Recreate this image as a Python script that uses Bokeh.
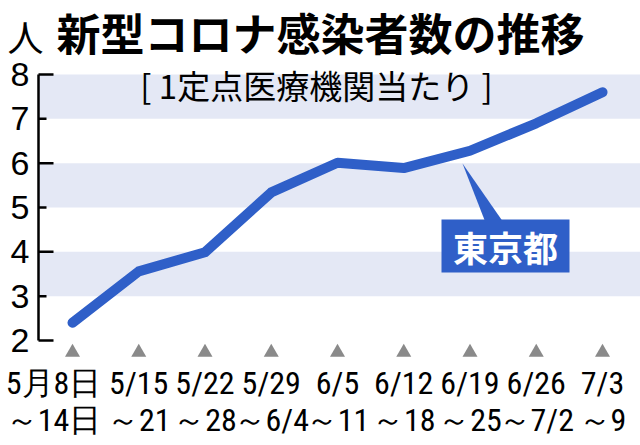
from bokeh.plotting import figure
from bokeh.models import Range1d, ColumnDataSource
from bokeh.core.properties import value
from bokeh.embed import file_html
from bokeh.resources import INLINE

# ---- data ----
week_start = ["5月8日", "5/15", "5/22", "5/29", "6/5", "6/12", "6/19", "6/26", "7/3"]
week_end = ["～14日", "～21", "～28", "～6/4", "～11", "～18", "～25", "～7/2", "～9"]
tokyo = [2.4, 3.56, 3.99, 5.34, 6.01, 5.89, 6.28, 6.9, 7.6]
y_ticks = [2, 3, 4, 5, 6, 7, 8]
y_long_ticks = [2, 4, 6, 8]
title_text = "新型コロナ感染者数の推移"
subtitle_text = "[ 1定点医療機関当たり ]"
unit_text = "人"
series_name = "東京都"

# ---- layout (canvas pixels -> data) ----
W, H = 640, 445
PXX, PXY = 66.25, 266 / 6.0
X0 = -72 / PXX
Y0 = 2 - (H - 340) / PXY

def px2x(cx):
    return X0 + cx / PXX

def px2y(cy):
    return Y0 + (H - cy) / PXY

LINE_BLUE = "#2f5fc8"
BAND = "#e4e8f5"
NARROW = "'Roboto Condensed', 'DejaVu Sans Condensed', 'Liberation Sans', sans-serif"

p = figure(width=W, height=H, output_backend="svg", toolbar_location=None,
           x_axis_location=None, y_axis_location=None,
           x_range=Range1d(X0, X0 + W / PXX),
           y_range=Range1d(Y0, Y0 + H / PXY),
           min_border_left=0, min_border_right=0, min_border_top=0, min_border_bottom=0)
p.outline_line_color = None
p.background_fill_color = "white"
p.border_fill_color = "white"
p.grid.visible = False

x_axis_pos = px2x(38)
x_right = X0 + W / PXX

# horizontal bands between (3,4), (5,6), (7,8)
band_lo = y_ticks[1:-1:2]
p.hbar(y=[b + 0.5 for b in band_lo], height=1, left=x_axis_pos, right=x_right,
       fill_color=BAND, line_color=None)

# y axis: line, ticks, labels
p.segment(x0=[x_axis_pos], y0=[min(y_ticks)], x1=[x_axis_pos], y1=[max(y_ticks)],
          line_color="black", line_width=2.5)
tick_len = [15 if t in y_long_ticks else 8 for t in y_ticks]
p.segment(x0=[x_axis_pos] * len(y_ticks), y0=y_ticks,
          x1=[x_axis_pos + L / PXX for L in tick_len], y1=y_ticks,
          line_color="black", line_width=2.5)
p.text(x=[px2x(29)] * len(y_ticks), y=y_ticks, text=[str(t) for t in y_ticks],
       text_align="right", text_baseline="middle",
       text_font=value("Liberation Sans"), text_font_size="34px", text_color="black")

xs = list(range(len(week_start)))

# line
p.line(xs, tokyo, line_color=LINE_BLUE, line_width=10, line_cap="round", line_join="round")

# triangle markers + labels
offs = [-19 if i == 0 else 0 for i in xs]
lab_src = ColumnDataSource(dict(x=xs, a=week_start, b=week_end, off=offs,
                                tri_y=[px2y(352)] * len(xs),
                                ya=[px2y(382)] * len(xs),
                                yb=[px2y(419)] * len(xs)))
p.scatter("x", "tri_y", source=lab_src, marker="triangle", size=15,
          fill_color="#8a8a8a", line_color=None)
p.text("x", "ya", text="a", x_offset="off", source=lab_src, text_align="center",
       text_baseline="middle", text_font=value(NARROW),
       text_font_size="32px", text_color="black")
p.text("x", "yb", text="b", x_offset="off", source=lab_src, text_align="center",
       text_baseline="middle", text_font=value(NARROW),
       text_font_size="32px", text_color="black")

# title / subtitle / unit
p.text([px2x(320)], [px2y(31)], text=[title_text], text_align="center", text_baseline="middle",
       text_font=value("Noto Sans CJK JP"), text_font_style="bold", text_font_size="44px",
       text_color="black")
p.text([px2x(316)], [px2y(84)], text=[subtitle_text], text_align="center", text_baseline="middle",
       text_font=value("Noto Sans CJK JP"), text_font_size="33px", text_color="black")
p.text([px2x(25)], [px2y(35)], text=[unit_text], text_align="center", text_baseline="middle",
       text_font=value("Noto Sans CJK JP"), text_font_size="36px", text_color="black")

# callout
p.patch([px2x(462), px2x(485), px2x(503)], [px2y(163), px2y(222), px2y(222)],
        fill_color=LINE_BLUE, line_color=None)
p.quad(left=[px2x(441)], right=[px2x(569)], top=[px2y(219)], bottom=[px2y(272)],
       fill_color=LINE_BLUE, line_color=None)
p.text([px2x(505)], [px2y(246)], text=[series_name], text_align="center", text_baseline="middle",
       text_font=value("Noto Sans CJK JP"), text_font_style="bold", text_font_size="35px",
       text_color="white")

open("out.html", "w").write(file_html(p, INLINE))
